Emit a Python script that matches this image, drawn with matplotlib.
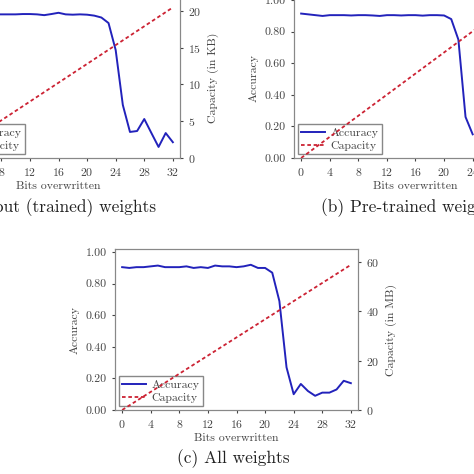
import matplotlib
matplotlib.use("Agg")
import matplotlib.pyplot as plt
import numpy as np

plt.rcParams['font.family'] = ['cmr10', 'DejaVu Serif']
plt.rcParams['axes.formatter.use_mathtext'] = True
plt.rcParams['mathtext.fontset'] = 'cm'

bits_a = list(range(0, 33))
acc_a = [0.91,0.91,0.91,0.91,0.91,0.91,0.91,0.91,0.91,0.91,0.91,0.912,0.912,0.91,0.905,0.912,0.92,0.91,0.908,0.91,0.908,0.902,0.89,0.855,0.684,0.336,0.165,0.171,0.247,0.158,0.07,0.158,0.10]
cap_a = [b * 0.64 for b in bits_a]  # KB

bits_b = list(range(0, 25))
acc_b = [0.915,0.91,0.905,0.90,0.905,0.905,0.905,0.903,0.905,0.905,0.903,0.90,0.905,0.905,0.903,0.905,0.905,0.902,0.905,0.905,0.903,0.88,0.75,0.26,0.15]
cap_b = [b * 1.0 for b in range(0, 33)]

bits_c = list(range(0, 33))
acc_c = [0.905,0.90,0.905,0.905,0.91,0.915,0.905,0.905,0.905,0.91,0.90,0.905,0.90,0.915,0.91,0.91,0.905,0.91,0.92,0.90,0.90,0.87,0.69,0.27,0.10,0.165,0.12,0.09,0.11,0.11,0.13,0.185,0.17]
cap_c = [b * 1.84 for b in bits_c]  # MB

xticks = [0, 4, 8, 12, 16, 20, 24, 28, 32]
gray = '#444444'
red = '#cc2233'
W = H = 474
fig = plt.figure(figsize=(4.74, 4.74), dpi=100)

def px(l, t, r, b):
    return [l / W, 1 - b / H, (r - l) / W, (b - t) / H]

def panel(rect, bits, acc, capx, cap, cap_top, cap_label, cap_ticks, caption, cap_xy):
    ax = fig.add_axes(px(*rect))
    ax.plot(bits, acc, color='#2222bb', lw=1.4, label='Accuracy')
    ax.plot([], [], color=red, ls=(0, (2, 1.5)), lw=1.3, label='Capacity')
    ax.set_xlim(-1, 33)
    ax.set_ylim(0, 1.02)
    ax.set_xticks(xticks)
    ax.set_yticks([0, 0.2, 0.4, 0.6, 0.8, 1.0])
    ax.set_yticklabels(['0.00', '0.20', '0.40', '0.60', '0.80', '1.00'])
    ax.set_xlabel('Bits overwritten', color=gray, fontsize=8.5, labelpad=2)
    ax.set_ylabel('Accuracy', color=gray, fontsize=8.5)
    ax2 = ax.twinx()
    ax2.plot(capx, cap, color=red, ls=(0, (2, 1.5)), lw=1.3)
    ax2.set_ylim(0, cap_top)
    if cap_ticks is not None:
        ax2.set_yticks(cap_ticks)
    ax2.set_ylabel(cap_label, color=gray, fontsize=8.5)
    for a in (ax, ax2):
        a.tick_params(labelsize=8.5, colors=gray, length=2.5, direction='out')
        for s in a.spines.values():
            s.set_color('#888888')
    leg = ax.legend(loc='lower left', fontsize=8.5, fancybox=False, framealpha=1,
                    edgecolor='#888888', borderpad=0.3, handlelength=2.0, labelspacing=0.2,
                    borderaxespad=0.3, handletextpad=0.5)
    for t in leg.get_texts():
        t.set_color(gray)
    fig.text(cap_xy[0] / W, 1 - cap_xy[1] / H, caption, ha='center', va='center', fontsize=12.5, color='#222222')

panel((-63, -3, 180, 158), bits_a, acc_a, bits_a, cap_a, 21.9, 'Capacity (in KB)', [0, 5, 10, 15, 20],
      '(a) Output (trained) weights', (46, 208))
panel((294, -3, 537, 158), bits_b, acc_b, list(range(0, 33)), cap_b, 30.5, 'Capacity', None,
      '(b) Pre-trained weights', (410, 208))
panel((115, 249, 358, 410), bits_c, acc_c, bits_c, cap_c, 65.3, 'Capacity (in MB)', [0, 20, 40, 60],
      '(c) All weights', (233, 459))

fig.savefig('out.png', dpi=100)
